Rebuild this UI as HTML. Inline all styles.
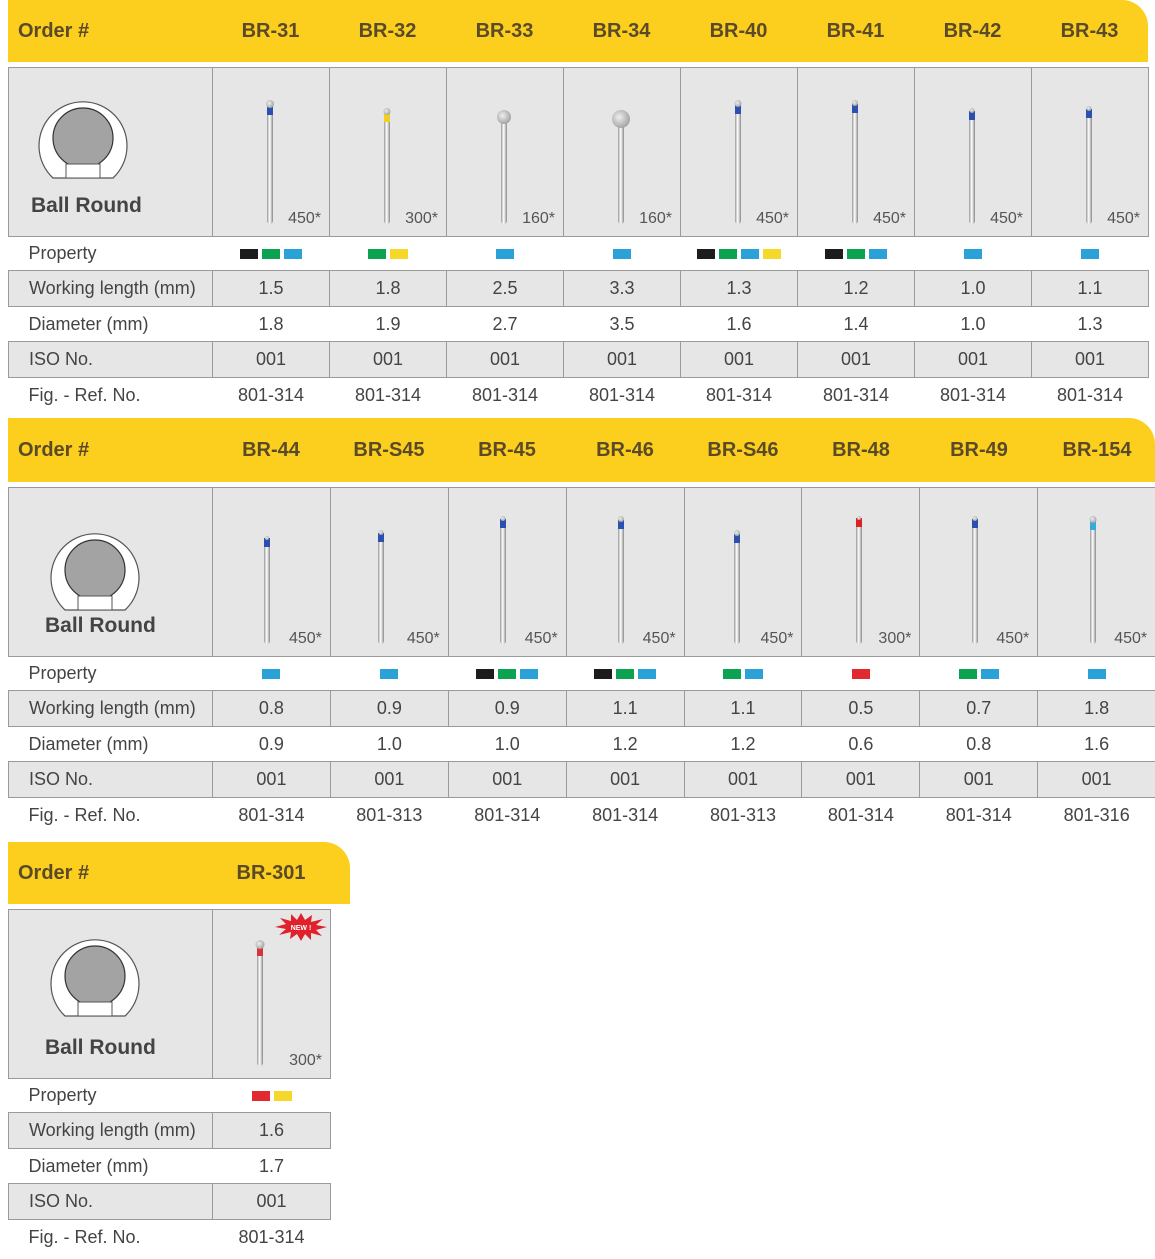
<!DOCTYPE html>
<html><head><meta charset="utf-8"><style>
*{margin:0;padding:0;box-sizing:border-box}
body{width:1155px;height:1259px;background:#fff;position:relative;overflow:hidden;font-family:"Liberation Sans",sans-serif;color:#444}
.blk{position:absolute;left:8px}
.hd{background:#fccf1f;border-top-right-radius:26px;display:flex;align-items:center;font-weight:bold;font-size:20px;color:#5a4a28}
.hd .c0{width:204px;padding-left:10px;flex:none}
.hd span{text-align:center;flex:none}
table{border-collapse:collapse;table-layout:fixed;margin-top:5px}
td{font-size:18px;text-align:center;vertical-align:middle;padding:0;white-space:nowrap}
td.l{text-align:left;padding-left:20px}
tr.img td{background:#e6e6e6;border:1px solid #9a9a9a;position:relative;height:169px}
tr.p td{height:34px;background:#fff;border-bottom:1px solid #9a9a9a}
tr.g td{background:#e6e6e6;border:1px solid #9a9a9a;height:36px}
tr.w td{height:35px;background:#fff}
tr.f td{height:36px}
.q{display:inline-block;width:18px;height:10px;margin:0 2px;vertical-align:middle}
.k{background:#1c1c1c}.gn{background:#0ba352}.bl{background:#2aa2d8}.ye{background:#f6d82a}.rd{background:#e02a30}
.bur{position:absolute;left:calc(50% - 5px);top:32px;bottom:12px;width:8px}
.bur::before{content:"";position:absolute;top:0;left:50%;transform:translateX(-50%);width:var(--d);height:var(--d);border-radius:50%;background:radial-gradient(circle at 40% 40%,#eee,#888);z-index:1}
.bur::after{content:"";position:absolute;top:calc(var(--d) - 2px);bottom:0;left:1px;width:6px;background:linear-gradient(90deg,#999,#fff 45%,#ccc 70%,#888);border-top:var(--bh,9px) solid var(--c,#2c50b0);border-radius:0 0 3px 3px}
td b{position:absolute;right:8px;bottom:8px;font-weight:normal;font-size:16px;color:#555}
.br{position:absolute;left:22px;bottom:18px;font-weight:bold;font-size:21px;color:#444}
.ic{position:absolute;top:28px}
</style></head><body>

<div class="blk" style="top:0;width:1140px">
<div class="hd" style="height:62px;width:1140px"><span class="c0" style="text-align:left">Order #</span><span style="width:117px">BR-31</span><span style="width:117px">BR-32</span><span style="width:117px">BR-33</span><span style="width:117px">BR-34</span><span style="width:117px">BR-40</span><span style="width:117px">BR-41</span><span style="width:117px">BR-42</span><span style="width:117px">BR-43</span></div>
<table style="width:1140px">
<colgroup><col style="width:204px"><col span="8" style="width:117px"></colgroup>
<tr class="img"><td><svg class="ic" style="left:28px" width="92" height="92" viewBox="-46 -46 92 92"><path d="M-30 36 A44 44 0 1 1 30 36 Z" fill="#fff" stroke="#555" stroke-width="1.2"/><circle cx="0" cy="-4" r="30" fill="#a3a3a3" stroke="#333" stroke-width="1.2"/><rect x="-17" y="22" width="34" height="14" fill="#fff" stroke="#555" stroke-width="1"/></svg><span class="br">Ball Round</span></td>
<td><div class="bur" style="--d:8px"></div><b>450*</b></td>
<td><div class="bur" style="--d:7px;--c:#f0cf20;top:40px"></div><b>300*</b></td>
<td><div class="bur" style="--d:14px;--bh:0px;top:42px"></div><b>160*</b></td>
<td><div class="bur" style="--d:18px;--bh:0px;top:42px"></div><b>160*</b></td>
<td><div class="bur" style="--d:7px"></div><b>450*</b></td>
<td><div class="bur" style="--d:6px"></div><b>450*</b></td>
<td><div class="bur" style="--d:5px;top:40px"></div><b>450*</b></td>
<td><div class="bur" style="--d:5px;top:38px"></div><b>450*</b></td></tr>
<tr class="p"><td class="l">Property</td><td><i class="q k"></i><i class="q gn"></i><i class="q bl"></i></td><td><i class="q gn"></i><i class="q ye"></i></td><td><i class="q bl"></i></td><td><i class="q bl"></i></td><td><i class="q k"></i><i class="q gn"></i><i class="q bl"></i><i class="q ye"></i></td><td><i class="q k"></i><i class="q gn"></i><i class="q bl"></i></td><td><i class="q bl"></i></td><td><i class="q bl"></i></td></tr>
<tr class="g"><td class="l">Working length (mm)</td><td>1.5</td><td>1.8</td><td>2.5</td><td>3.3</td><td>1.3</td><td>1.2</td><td>1.0</td><td>1.1</td></tr>
<tr class="w"><td class="l">Diameter (mm)</td><td>1.8</td><td>1.9</td><td>2.7</td><td>3.5</td><td>1.6</td><td>1.4</td><td>1.0</td><td>1.3</td></tr>
<tr class="g"><td class="l">ISO No.</td><td>001</td><td>001</td><td>001</td><td>001</td><td>001</td><td>001</td><td>001</td><td>001</td></tr>
<tr class="f"><td class="l">Fig. - Ref. No.</td><td>801-314</td><td>801-314</td><td>801-314</td><td>801-314</td><td>801-314</td><td>801-314</td><td>801-314</td><td>801-314</td></tr>
</table></div>

<div class="blk" style="top:418px;width:1147px">
<div class="hd" style="height:64px;width:1147px"><span class="c0" style="text-align:left">Order #</span><span style="width:118px">BR-44</span><span style="width:118px">BR-S45</span><span style="width:118px">BR-45</span><span style="width:118px">BR-46</span><span style="width:118px">BR-S46</span><span style="width:118px">BR-48</span><span style="width:118px">BR-49</span><span style="width:118px">BR-154</span></div>
<table style="width:1147px">
<colgroup><col style="width:204px"><col span="8" style="width:117.9px"></colgroup>
<tr class="img"><td><svg class="ic" style="left:40px;top:40px" width="92" height="92" viewBox="-46 -46 92 92"><path d="M-30 36 A44 44 0 1 1 30 36 Z" fill="#fff" stroke="#555" stroke-width="1.2"/><circle cx="0" cy="-4" r="30" fill="#a3a3a3" stroke="#333" stroke-width="1.2"/><rect x="-17" y="22" width="34" height="14" fill="#fff" stroke="#555" stroke-width="1"/></svg><span class="br" style="left:36px">Ball Round</span></td>
<td><div class="bur" style="--d:4px;top:48px;left:calc(50% - 8px)"></div><b>450*</b></td>
<td><div class="bur" style="--d:5px;top:42px;left:calc(50% - 12px)"></div><b>450*</b></td>
<td><div class="bur" style="--d:5px;top:28px;left:calc(50% - 8px)"></div><b>450*</b></td>
<td><div class="bur" style="--d:6px;top:28px;left:calc(50% - 8px)"></div><b>450*</b></td>
<td><div class="bur" style="--d:6px;top:42px;left:calc(50% - 10px)"></div><b>450*</b></td>
<td><div class="bur" style="--d:4px;--c:#d22;top:28px;left:calc(50% - 6px)"></div><b>300*</b></td>
<td><div class="bur" style="--d:5px;top:28px;left:calc(50% - 8px)"></div><b>450*</b></td>
<td><div class="bur" style="--d:7px;--c:#3aa8d8;top:28px;left:calc(50% - 8px)"></div><b>450*</b></td></tr>
<tr class="p"><td class="l">Property</td><td><i class="q bl"></i></td><td><i class="q bl"></i></td><td><i class="q k"></i><i class="q gn"></i><i class="q bl"></i></td><td><i class="q k"></i><i class="q gn"></i><i class="q bl"></i></td><td><i class="q gn"></i><i class="q bl"></i></td><td><i class="q rd"></i></td><td><i class="q gn"></i><i class="q bl"></i></td><td><i class="q bl"></i></td></tr>
<tr class="g"><td class="l">Working length (mm)</td><td>0.8</td><td>0.9</td><td>0.9</td><td>1.1</td><td>1.1</td><td>0.5</td><td>0.7</td><td>1.8</td></tr>
<tr class="w"><td class="l">Diameter (mm)</td><td>0.9</td><td>1.0</td><td>1.0</td><td>1.2</td><td>1.2</td><td>0.6</td><td>0.8</td><td>1.6</td></tr>
<tr class="g"><td class="l">ISO No.</td><td>001</td><td>001</td><td>001</td><td>001</td><td>001</td><td>001</td><td>001</td><td>001</td></tr>
<tr class="f"><td class="l">Fig. - Ref. No.</td><td>801-314</td><td>801-313</td><td>801-314</td><td>801-314</td><td>801-313</td><td>801-314</td><td>801-314</td><td>801-316</td></tr>
</table></div>

<div class="blk" style="top:842px;width:342px">
<div class="hd" style="height:62px;width:342px"><span class="c0" style="text-align:left">Order #</span><span style="width:118px">BR-301</span></div>
<table style="width:322px">
<colgroup><col style="width:204px"><col style="width:118px"></colgroup>
<tr class="img"><td><svg class="ic" style="left:40px;top:24px" width="92" height="92" viewBox="-46 -46 92 92"><path d="M-30 36 A44 44 0 1 1 30 36 Z" fill="#fff" stroke="#555" stroke-width="1.2"/><circle cx="0" cy="-4" r="30" fill="#a3a3a3" stroke="#333" stroke-width="1.2"/><rect x="-17" y="22" width="34" height="14" fill="#fff" stroke="#555" stroke-width="1"/></svg><span class="br" style="left:36px">Ball Round</span></td>
<td><svg style="position:absolute;right:2px;top:2px" width="54" height="30" viewBox="0 0 54 30"><polygon points="27,1 31,8 38,3 37,10 49,7 42,13 53,15 42,18 48,24 37,21 37,28 31,22 27,29 23,22 16,27 17,20 5,23 12,17 1,15 12,12 6,6 17,9 17,2 23,8" fill="#e0202a"/><text x="27" y="18" font-size="7" font-weight="bold" fill="#fff" text-anchor="middle" font-family="Liberation Sans">NEW !</text></svg><div class="bur" style="--d:9px;--c:#d8323a;top:30px;left:calc(50% - 16px)"></div><b>300*</b></td></tr>
<tr class="p"><td class="l">Property</td><td><i class="q rd"></i><i class="q ye"></i></td></tr>
<tr class="g"><td class="l">Working length (mm)</td><td>1.6</td></tr>
<tr class="w"><td class="l">Diameter (mm)</td><td>1.7</td></tr>
<tr class="g"><td class="l">ISO No.</td><td>001</td></tr>
<tr class="f"><td class="l">Fig. - Ref. No.</td><td>801-314</td></tr>
</table></div>
</body></html>
